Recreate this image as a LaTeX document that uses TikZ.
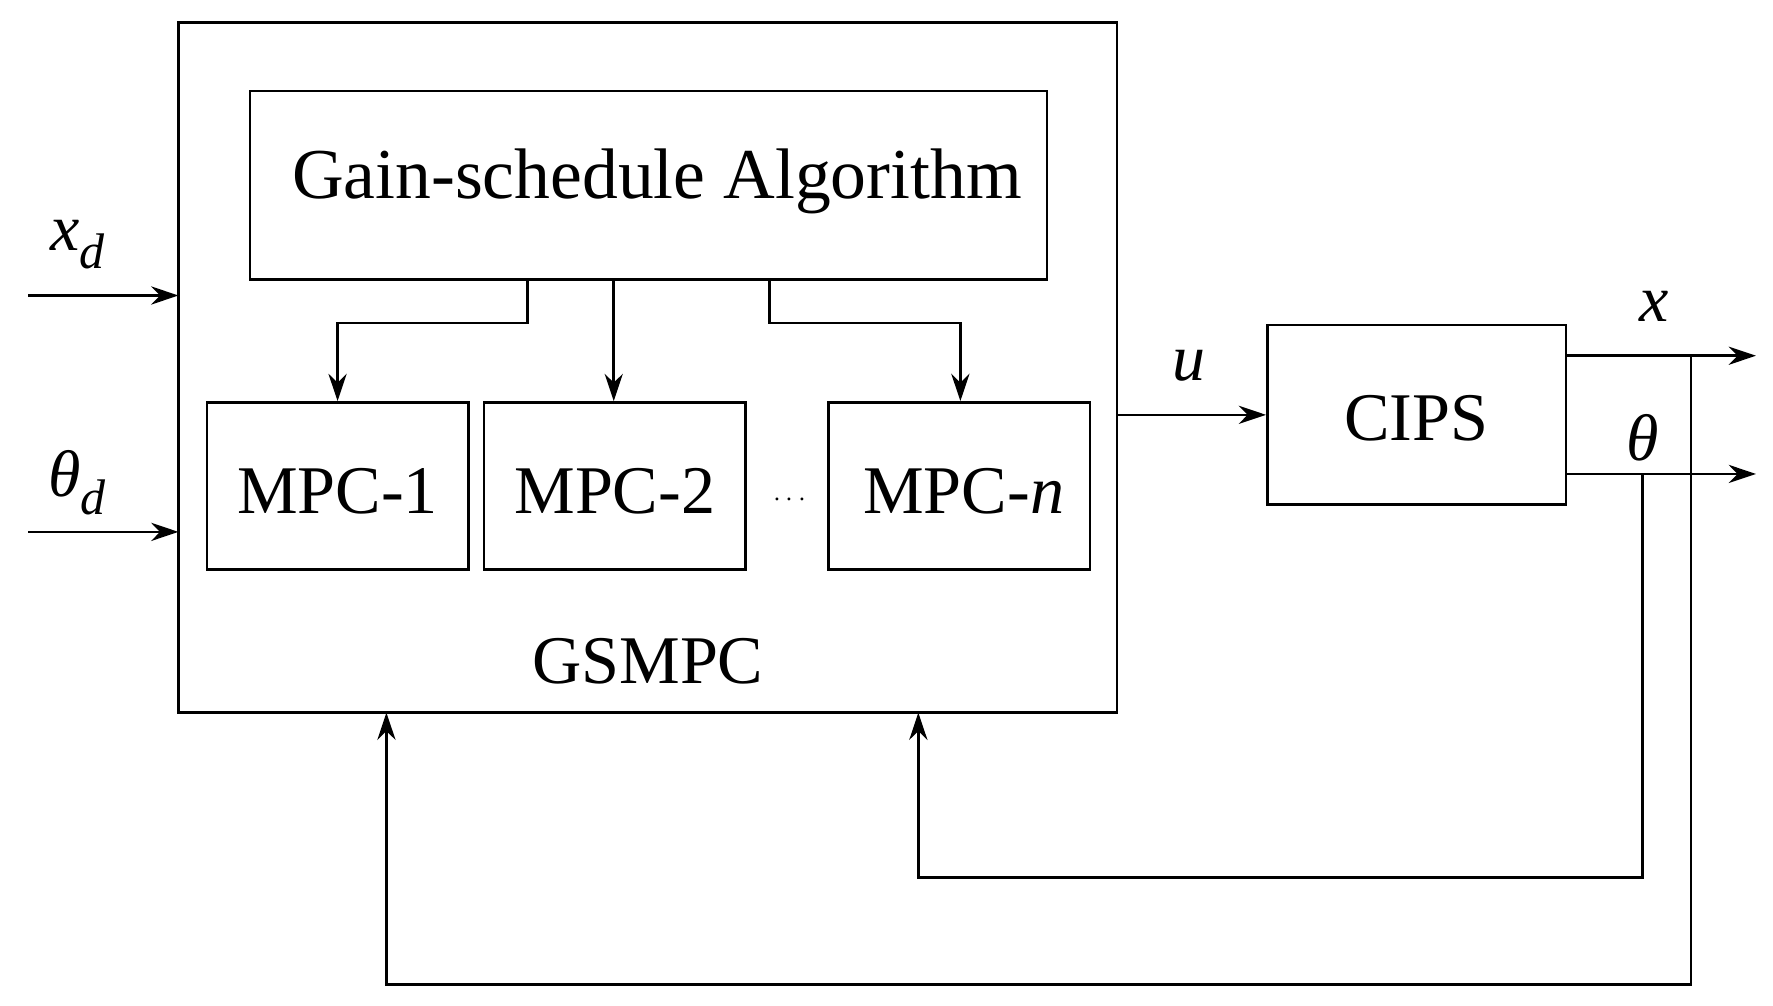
\documentclass[tikz,border=0pt]{standalone}
\usepackage{fontspec}
\setmainfont{Liberation Serif}
\usetikzlibrary{arrows.meta}
\newcommand{\mysub}[1]{{\fontsize{44}{44}\selectfont\raisebox{-16pt}{\textit{#1}}}}
\begin{document}
\begin{tikzpicture}[x=1pt,y=-1pt,line width=2.2pt,
  box/.style={draw,inner sep=0pt},
  arr/.style={-{Stealth[length=24pt,width=16pt]}},
  txt/.style={font=\fontsize{60}{60}\selectfont,inner sep=0pt},
  lbl/.style={font=\fontsize{58}{58}\selectfont\itshape,inner sep=0pt}]
\useasboundingbox (0,0) rectangle (1560,885);
\draw (157,20) rectangle (983,627);
\node[box,minimum width=701pt,minimum height=166pt] (g) at (570.5,163) {};
\node[txt,font=\fontsize{63}{63}\selectfont] at (578,160) {Gain-schedule Algorithm};
\node[box,minimum width=230pt,minimum height=147pt] (m1) at (297,427.5) {};
\node[box,minimum width=230pt,minimum height=147pt] (m2) at (541,427.5) {};
\node[box,minimum width=230pt,minimum height=147pt] (mn) at (844,427.5) {};
\node[txt] at (297,432) {MPC-1};
\node[txt] at (541,432) {MPC-2};
\node[txt] at (848,432) {MPC-\textit{n}};
\node[txt] at (695,440) {$\cdots$};
\node[txt] (gs) at (570,582) {GSMPC};
\coordinate (g1) at (464,246); \coordinate (g2) at (540,246); \coordinate (g3) at (677,246);
\draw[arr] (g1) -- (464,284) -- (297,284) -- (m1.north);
\draw[arr] (g2) -- (m2.north -| g2);
\draw[arr] (g3) -- (677,284) -- (845,284) -- (mn.north -| 845,0);
\coordinate (xi) at (25,260); \coordinate (ti) at (25,468);
\draw[arr] (xi) -- (157,260);
\draw[arr] (ti) -- (157,468);
\node[lbl] at (68,215) {x\mysub{d}};
\node[lbl] at (68,425) {θ\mysub{d}};
\node[box,minimum width=263pt,minimum height=158pt] (c) at (1246.5,365) {};
\node[txt] at (1246,368) {CIPS};
\draw[arr] (983,365) -- (c.west);
\node[lbl] at (1046,322) {u};
\coordinate (xo) at (1545,313); \coordinate (to) at (1545,417);
\draw[arr] (1378,313) -- (xo);
\draw[arr] (1378,417) -- (to);
\node[lbl] at (1455,270) {x};
\node[lbl] at (1445,385) {θ};
\draw[arr] (1445,417) -- (1445,772) -- (808,772) -- (808,627);
\draw[arr] (1488,313) -- (1488,866) -- (340,866) -- (340,627);
\end{tikzpicture}
\end{document}
